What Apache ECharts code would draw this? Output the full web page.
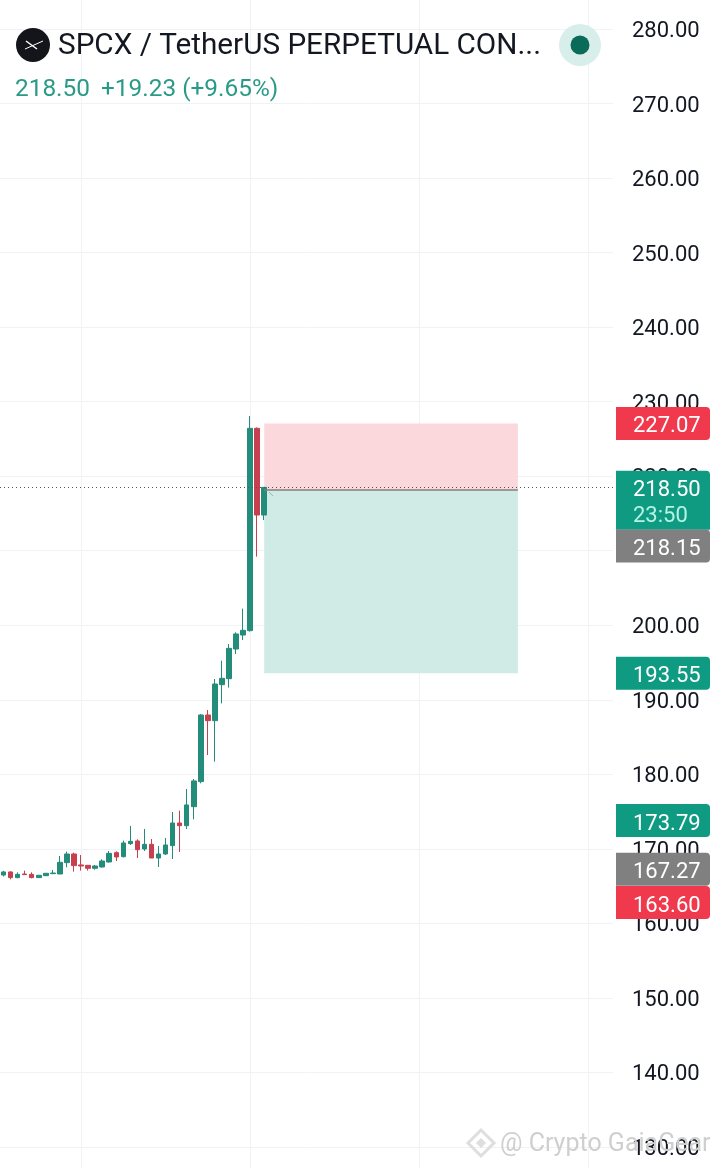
<!DOCTYPE html>
<html>
<head>
<meta charset="utf-8">
<style>html,body{margin:0;padding:0;background:#fff}#c{width:720px;height:1168px}</style>
<script src="https://cdn.jsdelivr.net/npm/echarts@6/dist/echarts.min.js"></script>
</head>
<body>
<div id="c"></div>
<script>
const opens  = [166.49,166.90,166.14,166.63,166.58,166.14,166.40,166.67,166.63,168.15,169.31,167.84,167.79,167.39,167.57,168.24,169.49,168.95,170.70,171.06,169.98,170.61,168.77,169.31,170.43,173.47,173.11,175.66,179.02,187.96,187.20,192.03,192.83,196.81,198.69,199.28,226.42,214.79];
const closes = [166.90,166.14,166.58,166.54,166.14,166.45,166.72,166.76,168.19,169.31,167.75,167.70,167.39,167.70,168.37,169.40,168.91,170.79,171.01,169.89,170.61,168.77,169.31,170.52,173.47,173.11,175.89,179.11,187.96,187.20,192.12,192.88,196.90,198.83,199.32,226.42,214.79,218.50];
const lows   = [166.30,165.91,166.05,166.50,166.05,166.10,166.35,166.62,166.60,167.52,166.94,167.08,167.08,167.21,167.48,168.15,168.37,168.86,170.52,168.77,169.71,168.77,167.57,169.18,168.64,169.58,172.67,173.96,178.79,182.59,181.70,189.52,191.63,196.14,198.02,199.14,209.20,214.12];
const highs  = [167.05,166.99,166.85,167.08,166.85,166.50,166.75,167.17,169.04,169.63,169.49,169.18,167.80,167.84,168.60,169.71,169.67,171.10,173.07,171.28,172.67,171.32,170.38,171.46,174.95,175.13,178.03,179.37,188.09,188.63,192.79,195.25,197.48,199.05,202.23,228.07,226.55,218.50];
const yTicks = [130,140,150,160,170,180,190,200,210,220,230,240,250,260,270,280];
const slotCount = 87;
const categories = Array.from({length: slotCount}, (_, i) => String(i));
const candles = opens.map((o, i) => [o, closes[i], lows[i], highs[i]]);

const lastPrice = 218.50, entry = 218.15, stopPrice = 227.07, targetPrice = 193.55;
const priceTags = [
  {value: 227.07, color: '#f0394d', offset: 0},
  {value: 193.55, color: '#0f9a82', offset: 0},
  {value: 173.79, color: '#0f9a82', offset: 0},
  {value: 167.27, color: '#808080', offset: 0},
  {value: 163.60, color: '#f0394d', offset: 6},
  {value: 218.15, color: '#808080', offset: 56}
];

const tag = t => ({
  yAxis: t.value,
  lineStyle: {color: 'rgba(0,0,0,0)', width: 0},
  label: {
    show: true, position: 'end', distance: 3,
    offset: [0, t.offset],
    formatter: () => '{a|' + t.value.toFixed(2) + '}',
    backgroundColor: t.color,
    width: 77, height: 26,
    padding: [7, 0, 0, 17], align: 'left', borderRadius: [0, 4, 4, 0],
    rich: {a: {color: '#fff', fontFamily: 'Roboto', fontSize: 22, lineHeight: 26}}
  }
});

const chart = echarts.init(document.getElementById('c'), null, {renderer: 'canvas'});
chart.setOption({
  animation: false,
  backgroundColor: '#fff',
  grid: {left: -3, width: 616, top: 0, bottom: 0, containLabel: false},
  xAxis: {
    type: 'category', data: categories, boundaryGap: true,
    axisLine: {show: false}, axisLabel: {show: false},
    axisTick: {show: false, alignWithLabel: true},
    splitLine: {show: true, alignWithLabel: true, interval: i => i % 24 === 11, lineStyle: {color: '#f1f2f5', width: 1}}
  },
  yAxis: {
    type: 'value', position: 'right', min: 127.18, max: 283.89, scale: true,
    axisLine: {show: false},
    axisTick: {show: false, customValues: yTicks},
    axisLabel: {
      customValues: yTicks, formatter: v => v.toFixed(2), margin: 19,
      verticalAlign: 'top', lineHeight: 5,
      fontFamily: 'Roboto', fontSize: 22, color: '#131722', align: 'left', hideOverlap: false,
      showMinLabel: true, showMaxLabel: true
    },
    splitLine: {show: true, lineStyle: {color: '#f1f2f5', width: 1}}
  },
  series: [{
    type: 'candlestick', data: candles, barWidth: 5,
    itemStyle: {color: '#238c7b', color0: '#c6404f', borderColor: '#238c7b', borderColor0: '#c6404f', borderWidth: 1},
    markArea: {
      silent: true,
      data: [
        [{coord: [37, stopPrice], itemStyle: {color: '#fbd8db'}}, {coord: [73, entry]}],
        [{coord: [37, entry], itemStyle: {color: '#d0ebe5'}}, {coord: [73, targetPrice]}]
      ]
    },
    markLine: {
      silent: true, symbol: 'none', animation: false,
      data: [
        {yAxis: lastPrice, lineStyle: {color: '#555', type: [1, 3], width: 1},
          label: {
            show: true, position: 'end', distance: 3, offset: [0, 13],
            formatter: () => '{a|' + lastPrice.toFixed(2) + '}\n{b|23:50}',
            backgroundColor: '#0f9a82', width: 77, height: 52,
            padding: [7, 0, 0, 17], align: 'left', borderRadius: [0, 4, 0, 0],
            rich: {
              a: {color: '#fff', fontFamily: 'Roboto', fontSize: 22, lineHeight: 26},
              b: {color: '#b5f3e4', fontFamily: 'Roboto', fontSize: 22, lineHeight: 26}
            }
          }},
        [{coord: [37, entry], lineStyle: {color: '#808080', width: 1.5, type: 'solid'}, label: {show: false}}, {coord: [73, entry]}]
      ].concat(priceTags.map(tag))
    }
  }],
  graphic: [
    {type: 'circle', z: 50, shape: {cx: 33, cy: 45, r: 17}, style: {fill: '#14151a'}},
    {type: 'line', z: 51, shape: {x1: 25, y1: 49, x2: 43, y2: 41}, style: {stroke: '#fff', lineWidth: 1}},
    {type: 'line', z: 51, shape: {x1: 26, y1: 41, x2: 37, y2: 49}, style: {stroke: '#fff', lineWidth: 1.5}},
    {type: 'text', z: 50, style: {x: 58, y: 47, text: 'SPCX / TetherUS PERPETUAL CON...', fill: '#131722', font: '29.7px Roboto', verticalAlign: 'middle'}},
    {type: 'text', z: 50, style: {x: 15, y: 89.5, text: '218.50', fill: '#2a9a88', font: '24.4px Roboto', verticalAlign: 'middle'}},
    {type: 'text', z: 50, style: {x: 101, y: 89.5, text: '+19.23 (+9.65%)', fill: '#2a9a88', font: '24.4px Roboto', verticalAlign: 'middle'}},
    {type: 'circle', z: 50, shape: {cx: 580, cy: 45, r: 21}, style: {fill: '#d8eeea'}},
    {type: 'circle', z: 51, shape: {cx: 580, cy: 45, r: 9.5}, style: {fill: '#0a6b58'}},
    {type: 'line', z: 51, shape: {x1: 269, y1: 492, x2: 273, y2: 496}, style: {stroke: '#9fb5b1', lineWidth: 1}},
    {type: 'polygon', z: 1, shape: {points: [[481, 1130], [494, 1143], [481, 1156], [468, 1143]]}, style: {fill: 'none', stroke: '#dedede', lineWidth: 3}},
    {type: 'polygon', z: 1, shape: {points: [[481, 1138], [486, 1143], [481, 1148], [476, 1143]]}, style: {fill: '#dedede'}},
    {type: 'text', z: 1, style: {x: 500, y: 1145, text: '@ Crypto GaiaGear', fill: '#cfcfcf', font: '25px Roboto', verticalAlign: 'middle'}}
  ]
});
</script>
</body>
</html>
